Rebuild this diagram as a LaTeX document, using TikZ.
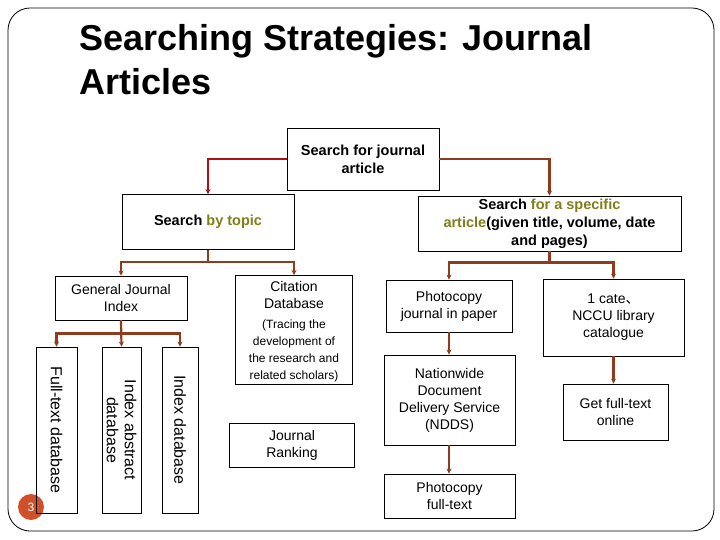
\documentclass[tikz,border=0pt]{standalone}
\usepackage{fontspec}
\setmainfont{Liberation Sans}
\newfontfamily\cjk{Noto Sans CJK SC}
\usetikzlibrary{arrows.meta}
\definecolor{brn}{HTML}{8E3B1E}
\definecolor{redl}{HTML}{B01010}
\definecolor{olv}{HTML}{7F7F1A}
\definecolor{org}{HTML}{D0502A}
\begin{document}
\begin{tikzpicture}[x=1pt,y=-1pt,
  bx/.style={draw,line width=0.8pt,align=center,inner sep=2pt,font=\fontsize{14}{17}\selectfont},
  bb/.style={bx,font=\fontsize{14.5}{18}\selectfont\bfseries},
  con/.style={brn,line width=2.2pt,-{Stealth[length=5pt,width=5pt]}},
  tx/.style={font=\fontsize{16}{18}\selectfont,align=center}]
\useasboundingbox (0,0) rectangle (720,540);
\draw[line width=0.8pt,rounded corners=22pt] (8,8) rectangle (714,531);
\node[anchor=west,font=\fontsize{36}{41}\selectfont\bfseries] (t1) at (76,41) {Searching Strategies: Journal};
\node[anchor=west,font=\fontsize{36}{41}\selectfont\bfseries] (t2) at (76,82) {Articles};
\node[circle,fill=org,minimum size=26pt,inner sep=0pt,text=white,font=\fontsize{12}{14}\selectfont] (pg) at (31,507) {3};
% boxes
\node[bb,minimum width=152pt,minimum height=62pt] (root) at (363,159) {Search for journal\\article};
\node[bb,minimum width=172pt,minimum height=55pt] (topic) at (208,222) {Search \textcolor{olv}{by topic}};
\node[bb,minimum width=263pt,minimum height=55pt] (spec) at (549.5,223.5) {Search \textcolor{olv}{for a specific}\\\textcolor{olv}{article}(given title, volume, date\\and pages)};
\node[bx,minimum width=132pt,minimum height=44pt] (gji) at (121,298) {General Journal\\Index};
\node[bx,minimum width=117pt,minimum height=109pt,anchor=north] (cit) at (294,275) {};
\node[align=center,anchor=north,font=\fontsize{14}{17}\selectfont] (citt) at (294,278) {Citation\\Database};
\node[align=center,anchor=north,font=\fontsize{12}{17}\selectfont] (citd) at (294,316) {(Tracing the\\development of\\the research and\\related scholars)};
\node[bx,minimum width=125pt,minimum height=44pt] (jr) at (292,445) {Journal\\Ranking};
\node[bx,minimum width=41pt,minimum height=166pt] (ft) at (56.5,430) {};
\node[tx,rotate=-90] (ftt) at (56.5,430) {Full-text database};
\node[bx,minimum width=39pt,minimum height=166pt] (ia) at (121.5,430) {};
\node[tx,rotate=-90] (iat) at (121.5,430) {Index abstract\\database};
\node[bx,minimum width=36pt,minimum height=166pt] (id) at (180,430) {};
\node[tx,rotate=-90] (idt) at (180,430) {Index database};
\node[bx,minimum width=126pt,minimum height=52pt] (pj) at (449,306) {Photocopy\\journal in paper};
\node[bx,minimum width=141pt,minimum height=77pt] (cat) at (613.5,317.5) {1 cate{\cjk 、}\\NCCU library\\catalogue};
\node[bx,minimum width=131pt,minimum height=90pt] (ndds) at (449.5,400) {Nationwide\\Document\\Delivery Service\\(NDDS)};
\node[bx,minimum width=131pt,minimum height=44pt] (pf) at (449.5,496) {Photocopy\\full-text};
\node[bx,minimum width=105pt,minimum height=56pt] (gf) at (615.5,412) {Get full-text\\online};
% connectors
\draw[con,redl] (root.west) -| (topic.north);
\draw[con] (root.east) -| (spec.north);
\draw[con] (topic.south) -- ++(0,12) coordinate (tj) -| (gji.north);
\draw[con] (tj) -| (cit.north);
\draw[con] (gji.south) -- ++(0,13) coordinate (gj) -| (ft.north);
\draw[con] (gji.south) -- (ia.north);
\draw[con] (gj) -| (id.north);
\draw[con] (spec.south) -- ++(0,11) coordinate (sj) -| (pj.north);
\draw[con] (sj) -| (cat.north);
\draw[con] (pj.south) -- (pj.south|-ndds.north);
\draw[con] (ndds.south-|pj.south) -- (pj.south|-pf.north);
\draw[con] (cat.south) -- (cat.south|-gf.north);
\end{tikzpicture}
\end{document}
